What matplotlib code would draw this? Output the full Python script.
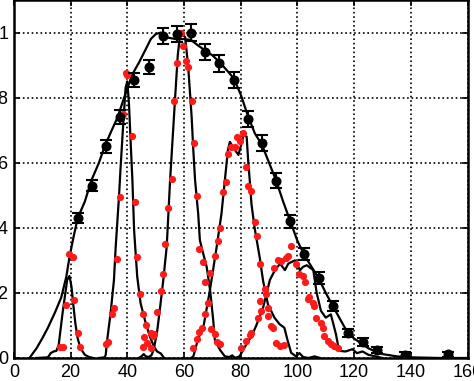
import numpy as np
import matplotlib
matplotlib.use("Agg")
import matplotlib.pyplot as plt

plt.rcParams['font.family'] = ['Liberation Sans', 'DejaVu Sans']

# broad envelope: measured points with error bars
env_x = [22.5, 27.5, 32.5, 37.5, 42.5, 47.5, 52.5, 57.5, 62.5, 67.5, 72.5, 77.5,
         82.5, 87.5, 92.5, 97.5, 102.5, 107.5, 112.5, 118, 123, 128, 138, 153]
env_y = [0.43, 0.53, 0.65, 0.74, 0.855, 0.895, 0.99, 0.995, 1.0, 0.94, 0.905, 0.855,
         0.735, 0.66, 0.545, 0.42, 0.32, 0.245, 0.16, 0.078, 0.048, 0.025, 0.009, 0.011]
env_err = [0.015, 0.018, 0.02, 0.022, 0.022, 0.022, 0.025, 0.025, 0.025, 0.025, 0.025,
           0.025, 0.025, 0.025, 0.022, 0.02, 0.018, 0.018, 0.015, 0.012, 0.012, 0.01,
           0.008, 0.008]

# broad envelope: calculated curve
envc_x = [5.5, 8, 10, 12, 14.5, 16.7, 18.5, 19.6, 21, 22.5, 25, 27.3, 30, 31.9, 34, 36.6,
          38.5, 40.1, 42, 44.2, 46, 48.3, 50, 51.8, 54, 57, 60, 62.5, 65, 67.5, 70, 72.5,
          75, 77.5, 80, 82.5, 85, 87.5, 90, 92.5, 95, 97.5, 100, 102.5, 105, 107.5, 110,
          112.5, 115, 117.7, 120, 122.5, 125, 127.5, 130, 135, 140, 150, 160]
envc_y = [0, 0.03, 0.06, 0.093, 0.14, 0.186, 0.25, 0.31, 0.37, 0.43, 0.48, 0.545, 0.6,
          0.647, 0.69, 0.74, 0.79, 0.83, 0.875, 0.909, 0.94, 0.98, 0.995, 1.0, 0.985,
          0.98, 0.98, 0.977, 0.96, 0.945, 0.93, 0.91, 0.885, 0.86, 0.81, 0.745, 0.69,
          0.655, 0.6, 0.545, 0.48, 0.42, 0.36, 0.315, 0.28, 0.245, 0.2, 0.16, 0.12, 0.078,
          0.06, 0.045, 0.03, 0.02, 0.012, 0.005, 0.002, 0, 0]

# narrow peaks: calculated curves
p1_x = [8, 12, 13, 14, 15, 15.8, 16.5, 17.2, 18, 18.8, 19.6, 20.3, 21, 21.7, 22.5, 23.5,
        25, 26.5, 28]
p1_y = [0, 0.002, 0.015, 0.02, 0.022, 0.04, 0.09, 0.14, 0.19, 0.24, 0.252, 0.22, 0.16,
        0.105, 0.06, 0.03, 0.01, 0.003, 0]

p2_x = [30, 32, 32.4, 32.9, 34.1, 35.3, 35.9, 37.1, 37.6, 38.5, 39.4, 40.0, 40.6, 41.2,
        41.8, 42.4, 43.5, 44.7, 46.5, 48, 49.4, 50.5, 51.8, 53]
p2_y = [0, 0.002, 0.01, 0.055, 0.137, 0.24, 0.34, 0.5, 0.58, 0.71, 0.83, 0.85, 0.78,
        0.66, 0.547, 0.393, 0.25, 0.168, 0.107, 0.065, 0.035, 0.02, 0.014, 0]

p3_x = [44, 45, 45.8, 46.5, 47.5, 48.5, 49.3, 50.5, 51.5, 52.7, 53.9, 54.5, 55.1, 56.8,
        57.8, 58.7, 60.4, 61.5, 62.7, 63.3, 63.9, 65.0, 65.6, 66.5, 68.0, 69.2, 70.3,
        70.9, 72.7, 74.4, 76, 77, 78, 80]
p3_y = [0, 0.005, 0.012, 0.005, 0.003, 0.008, 0.025, 0.08, 0.15, 0.24, 0.342, 0.444,
        0.547, 0.79, 0.93, 1.0, 0.986, 0.893, 0.74, 0.637, 0.547, 0.444, 0.362, 0.33,
        0.28, 0.209, 0.117, 0.055, 0.025, 0.005, 0.003, 0.008, 0, 0]

p4_x = [62.5, 63.3, 65, 66.8, 69.1, 71.5, 73.2, 74.4, 75.5, 76.2, 77.5, 79.2, 80.3, 81.0,
        82.1, 82.7, 83.2, 83.8, 84.9, 85.5, 86.7, 87.9, 89.6, 91.9, 93.7, 95.4, 96.6,
        97.8, 99.5, 100.7, 102, 104, 106, 108]
p4_y = [0, 0.005, 0.06, 0.093, 0.206, 0.34, 0.442, 0.545, 0.64, 0.664, 0.645, 0.624,
        0.66, 0.685, 0.68, 0.598, 0.545, 0.473, 0.4, 0.37, 0.309, 0.237, 0.165, 0.124,
        0.104, 0.093, 0.052, 0.016, 0.005, 0.015, 0.003, 0, 0.005, 0]

p5_x = [78, 79.6, 82, 84, 85.5, 87.9, 90.3, 92.1, 93.9, 95.6, 96.8, 99.1, 100.9, 102,
        103.3, 105.6, 106.8, 108.3, 110, 111.8, 113.6, 114.7, 117, 119.4, 121, 123,
        125, 127.5, 130]
p5_y = [0, 0.005, 0.042, 0.07, 0.1, 0.155, 0.24, 0.27, 0.29, 0.27, 0.29, 0.3, 0.27,
        0.28, 0.285, 0.27, 0.2, 0.145, 0.124, 0.134, 0.073, 0.022, 0.02, 0.027, 0.015,
        0.02, 0.01, 0.005, 0]

# narrow peaks: measured points (red)
r1_x = [16.3, 17.4, 18.4, 19.5, 20.7, 21.3, 22.5, 23.3]
r1_y = [0.033, 0.035, 0.163, 0.318, 0.311, 0.178, 0.078, 0.035]

r2_x = [32.5, 33.3, 34.5, 35.4, 36.4, 37.5, 38.4, 39.5, 39.8, 41.5, 42.7, 43.6, 44.6,
        45.4, 46.6, 48.3, 49.1, 46.0, 45.4, 47.1, 48.3]
r2_y = [0.044, 0.05, 0.134, 0.155, 0.304, 0.495, 0.75, 0.875, 0.87, 0.683, 0.478, 0.31,
        0.196, 0.136, 0.1, 0.078, 0.068, 0.063, 0.035, 0.045, 0.032]

r3_x = [49.5, 50.6, 51.9, 52.5, 53.3, 54.5, 55.7, 56.6, 57.7, 58.8, 59.8, 60.7, 61.5,
        62.7, 63.6, 64.7, 65.4, 66.6, 67.4, 68.5, 69.7, 70.9, 71.7, 72.6]
r3_y = [0.073, 0.14, 0.206, 0.257, 0.35, 0.462, 0.55, 0.79, 0.906, 1.0, 0.96, 0.914,
        0.893, 0.79, 0.66, 0.498, 0.334, 0.296, 0.232, 0.17, 0.088, 0.073, 0.05, 0.044]

r4_x = [63.3, 64.5, 65.4, 66.2, 67.4, 69.0, 70.9, 72.0, 72.6, 73.8, 74.7, 75.5, 76.7,
        77.9, 78.8, 79.9, 80.8, 81.8, 82.6, 83.8, 84.9, 85.7, 86.8, 88.4, 89.6, 90.8,
        91.3, 92.5, 93.7, 95.4]
r4_y = [0.032, 0.057, 0.081, 0.093, 0.136, 0.26, 0.314, 0.36, 0.4, 0.509, 0.54, 0.627,
        0.647, 0.647, 0.678, 0.668, 0.69, 0.588, 0.529, 0.512, 0.417, 0.375, 0.29,
        0.211, 0.129, 0.098, 0.093, 0.047, 0.037, 0.04]

r5_x = [80.2, 82.0, 83.2, 83.8, 86.1, 87.3, 86.7, 89.0, 89.6, 91.7, 93.1, 94.2, 96.0,
        97.8, 96.6, 99.5, 100.7, 101.9, 102.7, 103.6, 104.2, 105.4, 106.0, 106.5, 108.3,
        108.9, 109.5, 110.7, 111.8, 112.9, 114.2]
r5_y = [0.032, 0.052, 0.071, 0.078, 0.124, 0.145, 0.175, 0.196, 0.155, 0.276, 0.3,
        0.298, 0.306, 0.345, 0.314, 0.288, 0.257, 0.252, 0.232, 0.18, 0.186, 0.17, 0.16,
        0.124, 0.109, 0.093, 0.068, 0.052, 0.042, 0.037, 0.032]

xticks = [0, 20, 40, 60, 80, 100, 120, 140, 160]
yticks = [0, 0.2, 0.4, 0.6, 0.8, 1]

fig = plt.figure(figsize=(4.74, 3.81), dpi=100)
ax = fig.add_axes([0.0293, 0.0604, 0.957, 0.9396])

lw = 1.6
for cx, cy in [(envc_x, envc_y), (p1_x, p1_y), (p2_x, p2_y), (p3_x, p3_y),
               (p4_x, p4_y), (p5_x, p5_y)]:
    ax.plot(cx, cy, color='black', lw=lw, zorder=3)

for rx, ry in [(r1_x, r1_y), (r2_x, r2_y), (r3_x, r3_y), (r4_x, r4_y), (r5_x, r5_y)]:
    ax.plot(rx, ry, 'o', color='#ff1a1a', ms=5.2, mec='none', zorder=4)

ax.errorbar(env_x, env_y, yerr=env_err, fmt='o', color='black', ms=6.2, capsize=4,
            elinewidth=1.5, capthick=1.5, zorder=5)

ax.set_xlim(0, 160)
ax.set_ylim(0, 1.1)
ax.set_xticks(xticks)
ax.set_yticks(yticks)
ax.set_xticklabels([str(t) for t in xticks])
ax.set_yticklabels(['0', '0.2', '0.4', '0.6', '0.8', '1'])
ax.grid(True, color='black', linestyle=':', linewidth=1.2)
ax.tick_params(direction='in', length=4, width=1.2, top=True, right=True,
               labelsize=13, pad=4)
for s in ax.spines.values():
    s.set_linewidth(1.8)

fig.savefig('out.png', dpi=100)
